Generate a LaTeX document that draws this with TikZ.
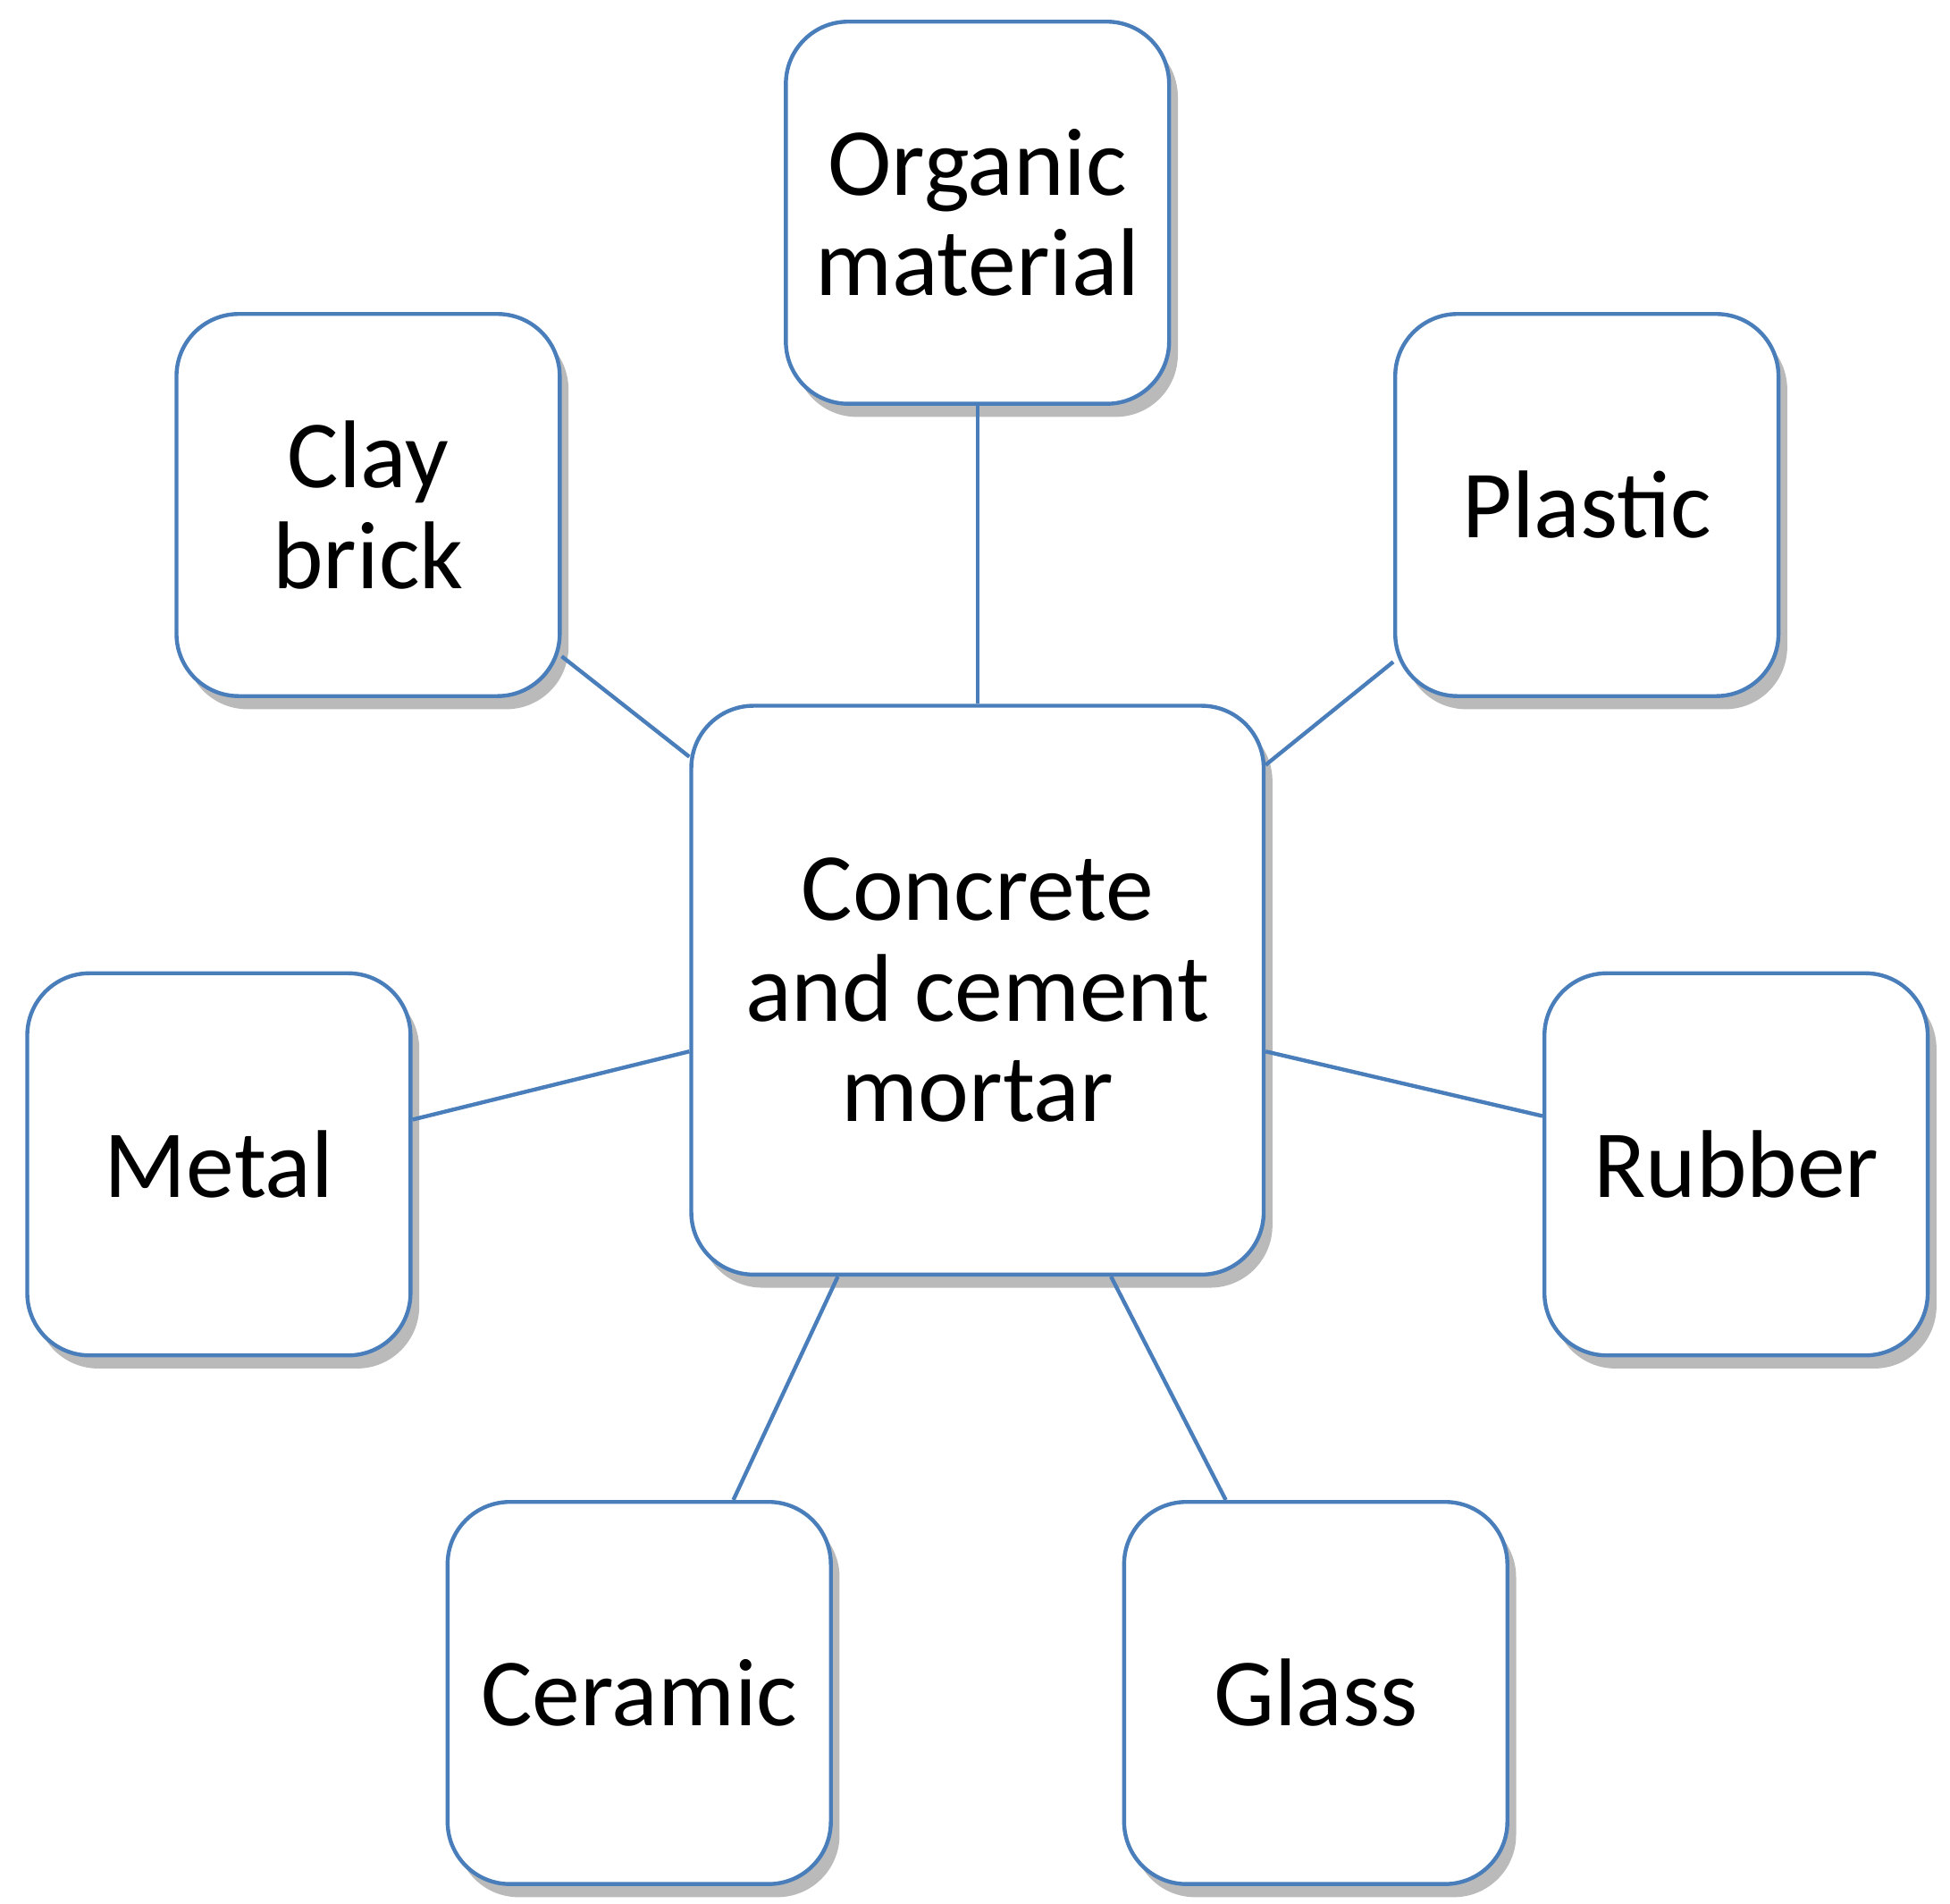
\documentclass[tikz,border=0pt]{standalone}
\usepackage{fontspec}
\setmainfont{Carlito}
\usetikzlibrary{shadows}
\definecolor{bord}{HTML}{4A7EBB}
\begin{document}
\begin{tikzpicture}[x=0.01cm,y=-0.01cm,
  box/.style={draw=bord,line width=0.9pt,fill=white,rounded corners=0.5cm,
    minimum width=3.08cm,minimum height=3.07cm,align=center,
    font=\fontsize{22}{23}\selectfont,
    drop shadow={shadow xshift=2pt,shadow yshift=-3pt,fill=black!45,opacity=0.6}},
  link/.style={draw=bord,line width=0.9pt}]
\useasboundingbox (0,0) rectangle (1568,1530);
\node[box] (org) at (786,171) {Organic\\material};
\node[box] (clay) at (296,406) {Clay\\brick};
\node[box] (pla) at (1276,406) {Plastic};
\node[box,minimum width=4.6cm,minimum height=4.57cm] (c) at (786,796) {Concrete\\and cement\\mortar};
\node[box] (met) at (176,936) {Metal};
\node[box] (rub) at (1396,936) {Rubber};
\node[box] (cer) at (514,1361) {Ceramic};
\node[box] (gla) at (1058,1361) {Glass};
\begin{scope}[on background layer/.style={}]
\end{scope}
\draw[link] (org.south) -- (c.north);
\draw[link] (clay.-38.8) -- (c.141.8);
\draw[link] (pla.-141.2) -- (c.38.2);
\draw[link] (met.13.2) -- (c.192.7);
\draw[link] (rub.166.8) -- (c.-12.7);
\draw[link] (cer.64.2) -- (c.244.3);
\draw[link] (gla.115.5) -- (c.295.9);
\end{tikzpicture}
\end{document}
